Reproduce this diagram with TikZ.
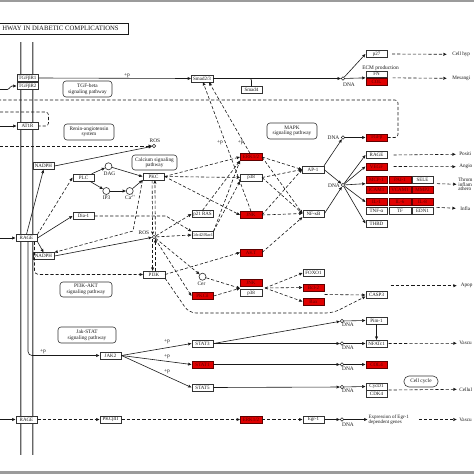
\documentclass[tikz,border=0pt]{standalone}
\usepackage{fontspec}
\setmainfont{Liberation Serif}
\usetikzlibrary{arrows.meta, calc}

\definecolor{hitred}{RGB}{224,0,0}
\definecolor{hitline}{RGB}{95,0,0}
\definecolor{bargray}{RGB}{155,155,155}

\begin{document}
\begin{tikzpicture}[
		x = 1pt, y = -1pt, % one unit per pixel, y grows downwards
		> = {Stealth[length=3.4pt, width=2.9pt, inset=0.4pt]}, % arrow head style
		line width = 0.6pt, % line style
		color = black!90,
		font = \fontsize{5}{5.4}\selectfont
		]
		
		\tikzstyle{gene}=[
		draw = black!80,
		fill = white,
		line width = 0.5pt,
		minimum width = 21.5pt,
		minimum height = 6.8pt,
		inner sep = 0pt
		]
		\tikzstyle{hit}=[gene, fill = hitred, draw = hitline, text = hitline]
		\tikzstyle{pathway}=[draw = black!80, rounded corners = 3pt, align = center, inner sep = 0pt, font = \fontsize{5.3}{5.5}\selectfont]
		\tikzstyle{cpd}=[draw = black!85, fill = white, circle, inner sep = 0pt, minimum size = 3.6pt]
		\tikzstyle{bigcpd}=[cpd, minimum size = 7pt]
		\tikzstyle{indirect}=[dash pattern = on 3.2pt off 2pt]
		\tikzstyle{membrane}=[draw = black!60, double = black!25, double distance = 0.6pt, line width = 0.5pt]
		\tikzstyle{lbl}=[inner sep = 0pt, font = \fontsize{5.4}{5.6}\selectfont]
		\tikzstyle{outcome}=[anchor = west, inner sep = 0pt, align = left, font = \fontsize{5.2}{4.5}\selectfont]
		
		\useasboundingbox (0,0) rectangle (474,474);
		\clip (0,0) rectangle (474,474);
		\fill[white] (0,0) rectangle (474,474);
		\fill[bargray] (0,0) rectangle (474,2.3);
		\fill[bargray] (0,471) rectangle (474,474);
		
		% title
		\draw[line width = 0.7pt] (-2,23) rectangle (128,34);
		\node[anchor = east, inner sep = 0pt, font = \fontsize{6.7}{7}\selectfont] (title) at (119,28.7) {HWAY IN DIABETIC COMPLICATIONS};
		
		% cell membrane
		\draw[membrane] (21,42) -- (21,455);
		\draw[membrane] (33,42) -- (33,455);
		
		% pathway maps
		\node[pathway, minimum width = 49pt, minimum height = 16pt] (tgfb_path) at (87.5,89) {TGF-beta\\signaling pathway};
		\node[pathway, minimum width = 50pt, minimum height = 16pt] (ras_path) at (89,132) {Renin-angiotensin\\system};
		\node[pathway, minimum width = 45pt, minimum height = 15pt] (calc_path) at (154.5,162.5) {Calcium signaling\\pathway};
		\node[pathway, minimum width = 50pt, minimum height = 16pt] (mapk_path) at (292,131) {MAPK\\signaling pathway};
		\node[pathway, minimum width = 52pt, minimum height = 15pt] (pi3k_path) at (86,289.5) {PI3K-AKT\\signaling pathway};
		\node[pathway, minimum width = 58pt, minimum height = 16pt] (jak_path) at (87,335) {Jak-STAT\\signaling pathway};
		\node[pathway, rounded corners = 5pt, minimum width = 34pt, minimum height = 11pt] (cc_path) at (421,381.5) {Cell cycle};
		
		% receptors and signalling genes
		\node[gene] (tgfbr1) at (27.5,78) {TGFβR1};
		\node[gene] (tgfbr2) at (27.5,86) {TGFβR2};
		\node[gene] (at1r) at (27.5,126) {AT1R};
		\node[gene] (nadph_1) at (43.5,166) {NADPH};
		\node[gene] (rage_1) at (26.5,238) {RAGE};
		\node[gene] (nadph_2) at (43.5,256) {NADPH};
		\node[gene] (plc) at (83.5,177.5) {PLC};
		\node[gene] (dia1) at (83.5,216) {Dia-1};
		\node[gene] (pkc) at (153.5,176.5) {PKC};
		\node[gene] (p21ras) at (202.5,214) {p21 RAS};
		\node[gene, font = \fontsize{4.3}{4.6}\selectfont] (cdc42) at (202.5,235) {Cdc42/Rac1};
		\node[gene] (pi3k) at (154,274.5) {PI3K};
		\node[gene] (smad23) at (202,78.5) {Smad2/3};
		\node[gene] (smad4) at (251.5,90) {Smad4};
		\node[hit] (erk) at (251,157) {ERK1/2};
		\node[gene] (p38_1) at (251,177.5) {p38};
		\node[hit] (jnk_1) at (251,215) {JNK};
		\node[hit] (akt) at (251,252.5) {AKT};
		\node[hit] (jnk_2) at (251,283) {JNK};
		\node[gene] (p38_2) at (251,293) {p38};
		\node[hit] (pkcd) at (202.5,296) {PKCδ};
		\node[gene] (ap1) at (313,169.5) {AP-1};
		\node[gene] (nfkb) at (313.5,213.5) {NF-κB};
		\node[gene] (foxo1) at (313.5,273) {FOXO1};
		\node[hit] (bcl2) at (313.5,287.5) {Bcl-2};
		\node[hit] (bax) at (313.5,301.5) {Bax};
		\node[gene] (casp3) at (376.5,295) {CASP3};
		\node[gene] (jak2) at (110.5,355.5) {JAK2};
		\node[gene] (stat3) at (202.5,343.5) {STAT3};
		\node[hit] (stat1) at (202.5,364.5) {STAT1};
		\node[gene] (stat5) at (202.5,387.5) {STAT5};
		\node[gene] (rage_3) at (26.5,419.5) {RAGE};
		\node[gene] (pkcb2) at (110.5,419.5) {PKCβII};
		\node[hit] (erk_2) at (251,419.5) {ERK1/2};
		\node[gene] (egr1) at (313.5,419.5) {Egr-1};
		
		% target genes
		\node[gene] (p27) at (376.5,54) {p27};
		\node[gene] (fn) at (376.5,74.2) {FN};
		\node[hit] (col) at (376.5,81.6) {COL};
		\node[hit] (tgfb) at (376.5,137.5) {TGFβ};
		\node[gene] (rage_2) at (376.5,155) {RAGE};
		\node[hit] (vegf) at (376.5,166.5) {VEGF};
		\node[hit] (mcp1) at (376.5,180) {MCP-1};
		\node[hit] (pai1) at (400,180) {PAI-1};
		\node[gene] (sele) at (422.5,180) {SELE};
		\node[hit] (icam1) at (376.5,190) {ICAM1};
		\node[hit] (vcam1) at (400,190) {VCAM1};
		\node[hit] (mmp2) at (422.5,190) {MMP2};
		\node[hit] (il1) at (376.5,202) {IL-1};
		\node[hit] (il6) at (400,202) {IL-6};
		\node[hit] (il8) at (422.5,202) {IL-8};
		\node[gene] (tnfa) at (376.5,211) {TNF-α};
		\node[gene] (tf) at (400,211) {TF};
		\node[gene] (edn1) at (422.5,211) {EDN1};
		\node[gene] (thbd) at (376.5,223.5) {THBD};
		\node[gene] (pim1) at (376.5,320.5) {Pim-1};
		\node[gene] (nfatc1) at (376.5,343.5) {NFATc1};
		\node[hit] (col4) at (376.5,364.5) {COL4};
		\node[gene] (cycd1) at (376.5,386.5) {CycD1};
		\node[gene] (cdk4) at (376.5,393.7) {CDK4};
		
		% compounds
		\node[cpd] (ros_1) at (154,146) {};
		\node[cpd] (ros_2) at (154,237) {};
		\node[bigcpd] (dag) at (108.5,166.3) {};
		\node[bigcpd] (ip3) at (106.3,191) {};
		\node[bigcpd] (ca) at (129.7,191) {};
		\node[bigcpd] (cer) at (202.5,276.7) {};
		\node[cpd] (dna_1) at (343,78.5) {};
		\node[cpd] (dna_2) at (343,137.5) {};
		\node[cpd] (dna_3) at (343,185) {};
		\node[cpd] (dna_4) at (342,321) {};
		\node[cpd] (dna_5) at (342,343.5) {};
		\node[cpd] (dna_6) at (342,364.5) {};
		\node[cpd] (dna_7) at (342,387) {};
		\node[cpd] (dna_8) at (342,419.5) {};
		
		\node[lbl] (ros_1_lbl) at (155,140.5) {ROS};
		\node[lbl] (ros_2_lbl) at (144,233) {ROS};
		\node[lbl] (dag_lbl) at (109.5,173.8) {DAG};
		\node[lbl] (ip3_lbl) at (106.5,197.5) {IP3};
		\node[lbl] (ca_lbl) at (130.5,197.5) {Ca\textsuperscript{2+}};
		\node[lbl] (cer_lbl) at (201.5,283.5) {Cer};
		\node[lbl] (dna_1_lbl) at (349,84.5) {DNA};
		\node[lbl] (dna_2_lbl) at (333.5,137.5) {DNA};
		\node[lbl] (dna_3_lbl) at (334,186) {DNA};
		\node[lbl] (dna_4_lbl) at (348,325) {DNA};
		\node[lbl] (dna_5_lbl) at (348,347.5) {DNA};
		\node[lbl] (dna_6_lbl) at (348,368.5) {DNA};
		\node[lbl] (dna_7_lbl) at (348,391) {DNA};
		\node[lbl] (dna_8_lbl) at (348,424.5) {DNA};
		\node[lbl] (ecm_lbl) at (380.5,67.8) {ECM production};
		\node[lbl] (p_tgf) at (127,75.3) {+p};
		\node[lbl] (p_erk) at (240.7,143) {+p};
		\node[lbl] (p_jnk) at (220,143) {+p};
		\node[lbl] (p_jak) at (43,352) {+p};
		\node[lbl] (p_stat3) at (167,341.7) {+p};
		\node[lbl] (p_stat1) at (167,357) {+p};
		\node[lbl] (p_stat5) at (167,371.7) {+p};
		
		% outcomes at the right edge
		\node[outcome] (out_hyp) at (452,54.3) {Cell hyp};
		\node[outcome] (out_mes) at (452,78.3) {Mesangi};
		\node[outcome] (out_pos) at (459,154.3) {Positi};
		\node[outcome] (out_ang) at (459,166.7) {Angio};
		\node[outcome] (out_thr) at (458,184.3) {Throm\\inflam\\athero};
		\node[outcome] (out_inf) at (460,208.3) {Infla};
		\node[outcome] (out_apo) at (460.5,285.7) {Apop};
		\node[outcome] (out_vas_1) at (459,343.3) {Vascu};
		\node[outcome] (out_cel) at (459,389.3) {Cellul};
		\node[outcome] (out_vas_2) at (459,419.5) {Vascu};
		\node[outcome, inner sep = 0.8pt, font = \fontsize{5}{4.9}\selectfont] (expr) at (367.5,419.5) {Expression of Egr-1\\dependent genes};
		
		% free ends at the left edge
		\coordinate (left_tgf) at (0,89.5);
		\coordinate (left_tgfb) at (0,100);
		\coordinate (left_ang) at (0,112);
		\coordinate (left_at1r) at (0,126);
		\coordinate (left_ros) at (0,146);
		\coordinate (left_age_1) at (0,238);
		\coordinate (left_age_2) at (0,419.5);
		\coordinate (fan_jnk) at ([xshift=3pt, yshift=-5pt]jnk_2.east);
		
		% TGF-beta branch
		\draw[->, rounded corners = 1.5pt] (left_tgf) -- (9,89.5) -- (10.5,86) -- (tgfbr2.west);
		\draw[->] (tgfbr1.east) -- (smad23.west);
		\draw[->] (smad23.east) -- (dna_1);
		\draw[rounded corners = 2pt] (smad4.north) |- (246,78.5);
		\draw[->] (dna_1) -- (p27.west);
		\draw[->] (dna_1) -- (fn.south west);
		\draw[indirect, rounded corners = 3pt] (tgfb.east) -- (398,137.5) -- (398,100) -- (left_tgfb);
		\draw[indirect, ->] ([xshift=-1pt]erk.north) -- ([xshift=7pt]smad23.south);
		\draw[indirect, ->] (jnk_1.north) -- ([xshift=1pt]smad23.south);
		
		% angiotensin and ROS
		\draw[indirect, rounded corners = 3pt] (left_ang) -- (48.5,112) -- (48.5,126) -- (at1r.east);
		\draw[->] (left_at1r) -- (at1r.west);
		\draw[indirect, ->] (left_ros) -- (ros_1);
		\draw[->] (nadph_1.east) -- (ros_1);
		
		% RAGE
		\draw[->] (left_age_1) -- (rage_1.west);
		\draw[->] (rage_1.north) -- (nadph_1.south);
		\draw[->] (rage_1.south east) -- (nadph_2.north);
		\draw[->] (rage_1.east) -- (dia1.west);
		\draw[indirect, ->] (rage_1.north east) -- (plc.west);
		\draw[indirect, ->, rounded corners = 4pt] ([xshift=8pt]rage_1.south) |- (pi3k.west);
		\draw[->, rounded corners = 4pt] ([xshift=1.5pt]rage_1.south) |- (jak2.west);
		
		% calcium
		\draw[->] (plc) -- (dag);
		\draw[->] (plc) -- (ip3);
		\draw[->] (ip3) -- (ca);
		\draw[->] (dag) -- (pkc.west);
		\draw[->] (ca) -- (pkc.south west);
		
		% PKC, ROS, PI3K
		\draw[indirect, ->] (pkc.south west) -- (133,231) -- (nadph_2.north east);
		\draw[->] (nadph_2.east) -- (ros_2);
		\draw[indirect, ->] ([xshift=-1.4pt]pkc.south) -- ([xshift=-1.4pt]ros_2.north);
		\draw[indirect, ->] ([xshift=1.4pt]ros_2.north) -- ([xshift=1.4pt]pkc.south);
		\draw[indirect, ->] ([xshift=-1.4pt]ros_2.south) -- ([xshift=-1.4pt]pi3k.north);
		\draw[indirect, ->] ([xshift=1.4pt]pi3k.north) -- ([xshift=1.4pt]ros_2.south);
		\draw[indirect, ->] (dia1.east) -- (166,216) -- (cdc42.north west);
		\draw[indirect, ->] (ros_2) -- (p21ras.west);
		\draw[indirect, ->] (ros_2) -- (cdc42.west);
		\draw[indirect, ->] (ros_2) -- (cer);
		\draw[indirect, ->] (ros_2) -- (pkcd.west);
		\draw[indirect, ->] (pkc.east) -- (erk.west);
		\draw[indirect, ->] (pkc.east) -- (p38_1.west);
		\draw[indirect, ->] (pkc.east) -- (jnk_1.west);
		\draw[indirect, ->] (p21ras.north) -- (erk.south west);
		\draw[indirect, ->] (cdc42.north east) -- (erk.south west);
		\draw[indirect, ->] (cdc42.north east) -- (p38_1.south west);
		\draw[indirect, ->] (pi3k.east) -- (akt.west);
		
		% MAPK to transcription factors
		\draw[indirect, ->] (erk.east) -- (ap1.west);
		\draw[indirect, ->] (erk.east) -- (nfkb.west);
		\draw[indirect, ->] (p38_1.east) -- (ap1.west);
		\draw[indirect, ->] (p38_1.east) -- (nfkb.west);
		\draw[indirect, ->] (jnk_1.east) -- (ap1.west);
		\draw[indirect, ->] (jnk_1.east) -- (nfkb.west);
		\draw[indirect, ->] (akt.east) -- (nfkb.south west);
		
		% apoptosis
		\draw[indirect, ->] (cer) -- ([yshift=-1.6pt]jnk_2.south west);
		\draw[indirect, ->] (pkcd.east) -- ([yshift=-1.6pt]jnk_2.south west);
		\draw[indirect, ->] (fan_jnk) -- (foxo1.west);
		\draw[indirect, ->] (fan_jnk) -- (bcl2.west);
		\draw[indirect, ->] (fan_jnk) -- (bax.west);
		\draw[indirect, ->] ($(bcl2.south east)!0.5!(bax.north east)$) -- (casp3.west);
		\draw[indirect, ->, rounded corners = 7pt] (pi3k.south east) -- (189,313) -- (333,313) -- ([yshift=-1.5pt]casp3.west);
		
		% transcription
		\draw[->] (ap1.north east) -- (dna_2);
		\draw[->] (dna_2) -- (tgfb.west);
		\draw[->] (ap1.east) -- (dna_3);
		\draw[->] (nfkb.east) -- (dna_3);
		\draw[->] (dna_3) -- (rage_2.west);
		\draw[->] (dna_3) -- (vegf.west);
		\draw[->] (dna_3) -- (mcp1.south west);
		\draw[->] (dna_3) -- (il1.west);
		\draw[->] (dna_3) -- (thbd.west);
		
		% JAK-STAT
		\draw[->] (jak2.east) -- (stat3.west);
		\draw[->] (jak2.east) -- (stat1.west);
		\draw[->] (jak2.east) -- (stat5.west);
		\draw[->] (stat3.east) -- (dna_4);
		\draw[->] (stat3.east) -- (dna_5);
		\draw[->] (stat1.east) -- (dna_6);
		\draw[->] (stat5.east) -- (dna_7);
		\draw[->] (dna_4) -- (pim1.west);
		\draw[->] (pim1.south) -- (nfatc1.north);
		\draw[->] (dna_5) -- (nfatc1.west);
		\draw[->] (dna_6) -- (col4.west);
		\draw[->] (dna_7) -- (cycd1.west);
		
		% PKCbetaII and Egr-1
		\draw[->] (left_age_2) -- (rage_3.west);
		\draw[indirect, ->] (rage_3.east) -- (pkcb2.west);
		\draw[indirect, ->] (pkcb2.east) -- (erk_2.west);
		\draw[indirect, ->] (erk_2.east) -- (egr1.west);
		\draw[->] (egr1.east) -- (dna_8);
		\draw[->] (dna_8) -- (expr.west);
		
		% outcomes
		\draw[indirect, ->] ([xshift=4.5pt]p27.east) -- ([xshift=-5.3pt]out_hyp.west);
		\draw[indirect, ->] ([xshift=5pt]fn.south east) -- ([xshift=-5.3pt]out_mes.west);
		\draw[indirect, ->] ([xshift=6pt]rage_2.east) -- ([xshift=-3.3pt]out_pos.west);
		\draw[indirect, ->] ([xshift=6pt]vegf.east) -- ([xshift=-3.3pt]out_ang.west);
		\draw[indirect, ->] ([xshift=3.5pt]sele.south east) -- ([xshift=-1.5pt]out_thr.west);
		\draw[indirect, ->] ([xshift=3pt]edn1.north east) -- ([xshift=-4.3pt]out_inf.west);
		\draw[indirect, ->] ([xshift=3pt, yshift=9.3pt]casp3.east) -- ([xshift=-3.8pt]out_apo.west);
		\draw[indirect, ->] ([xshift=1pt]nfatc1.east) -- ([xshift=-2.3pt]out_vas_1.west);
		\draw[indirect, ->] ([xshift=1pt]cdk4.north east) -- ([xshift=-2.3pt]out_cel.west);
		\draw[indirect, ->] ([xshift=9pt]expr.east) -- ([xshift=-2.3pt]out_vas_2.west);
\end{tikzpicture}
\end{document}
